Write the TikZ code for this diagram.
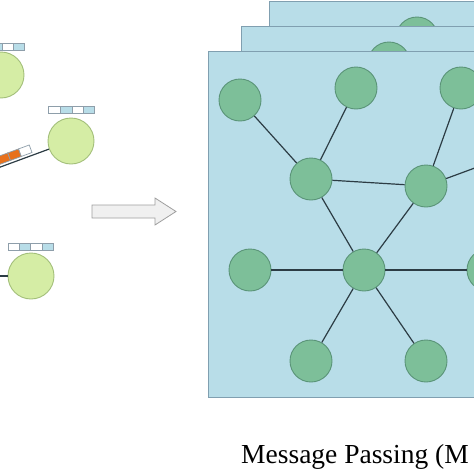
\documentclass[tikz,border=0pt]{standalone}
\usepackage{fontspec}
\setmainfont{Liberation Serif}
\definecolor{panelfill}{HTML}{B8DDE8}
\definecolor{paneldraw}{HTML}{809FB0}
\definecolor{gnfill}{HTML}{7DBF99}
\definecolor{gndraw}{HTML}{5A9478}
\definecolor{lgfill}{HTML}{D5EDA5}
\definecolor{lgdraw}{HTML}{A3BF7A}
\definecolor{cellblue}{HTML}{B8DDE8}
\definecolor{celldraw}{HTML}{8E9EAA}
\definecolor{orangec}{HTML}{E8711C}
\definecolor{edgec}{HTML}{2C3C44}
\tikzset{
  panel/.style={fill=panelfill, draw=paneldraw, line width=1pt},
  gnode/.style={circle, fill=gnfill, draw=gndraw, line width=0.9pt, minimum size=42pt, inner sep=0pt},
  lnode/.style={circle, fill=lgfill, draw=lgdraw, line width=0.9pt, minimum size=46pt, inner sep=0pt},
  edge/.style={draw=edgec, line width=1.2pt},
  wcell/.style={fill=white, draw=celldraw, line width=0.7pt},
  bcell/.style={fill=cellblue, draw=celldraw, line width=0.7pt},
  ocell/.style={fill=orangec, draw=celldraw, line width=0.7pt},
  bigarrow/.style={fill=black!6, draw=black!38, line width=0.8pt, line join=miter},
}
\begin{document}
\begin{tikzpicture}[x=1pt,y=-1pt]
\useasboundingbox (0,0) rectangle (474,474);
\clip (0,0) rectangle (474,474);
% back panel
\path[panel] (269,1) rectangle (490,390);
\node[gnode] (bb) at (417,38) {};
% middle panel
\path[panel] (241,26) rectangle (490,390);
\node[gnode] (mb) at (389,63) {};
% front panel
\path[panel] (208,51) rectangle (490,397);
% graph nodes
\coordinate (off) at (510,155);
\node[gnode] (A) at (240,100) {};
\node[gnode] (B) at (356,88) {};
\node[gnode] (C) at (461,88) {};
\node[gnode] (D) at (311,179) {};
\node[gnode] (E) at (426,186) {};
\node[gnode] (F) at (364,270) {};
\node[gnode] (G) at (250,270) {};
\node[gnode] (H) at (488,270) {};
\node[gnode] (I) at (311,361) {};
\node[gnode] (J) at (426,361) {};
\draw[edge] (A) -- (D);
\draw[edge] (B) -- (D);
\draw[edge] (D) -- (E);
\draw[edge] (C) -- (E);
\draw[edge] (E) -- (off);
\draw[edge] (D) -- (F);
\draw[edge] (E) -- (F);
\draw[edge] (G) -- (F);
\draw[edge] (F) -- (H);
\draw[edge] (F) -- (I);
\draw[edge] (F) -- (J);
% left side
\node[lnode] (c1) at (1,75) {};
\draw[bcell] (-9,43) rectangle (2,50);
\draw[wcell] (2,43) rectangle (13,50);
\draw[bcell] (13,43) rectangle (24,50);

\node[lnode] (c2) at (71,141) {};
\draw[wcell] (48,106) rectangle (60,113);
\draw[bcell] (60,106) rectangle (72,113);
\draw[wcell] (72,106) rectangle (83,113);
\draw[bcell] (83,106) rectangle (94,113);
\coordinate (l2) at (-5,169);
\draw[edge] (c2) -- (l2);
\begin{scope}[shift={(32,152.5)}, rotate=20.2]
\draw[wcell] (-11.5,0) rectangle (0,-8);
\draw[ocell] (-23,0) rectangle (-11.5,-8);
\draw[ocell] (-34.5,0) rectangle (-23,-8);
\draw[ocell] (-46,0) rectangle (-34.5,-8);
\end{scope}

\node[lnode] (c3) at (31,276) {};
\draw[wcell] (8,243) rectangle (19,250);
\draw[bcell] (19,243) rectangle (30,250);
\draw[wcell] (30,243) rectangle (42,250);
\draw[bcell] (42,243) rectangle (53,250);
\coordinate (l3) at (-5,276);
\draw[edge] (c3) -- (l3);
% block arrow
\path[bigarrow] (92,205) -- (155,205) -- (155,198) -- (176,211.5) -- (155,225) -- (155,218) -- (92,218) -- cycle;
% caption
\node[anchor=base west, inner sep=0pt, font=\fontsize{27.5}{32}\selectfont] (cap) at (241,463) {Message Passing (M};
\end{tikzpicture}
\end{document}
